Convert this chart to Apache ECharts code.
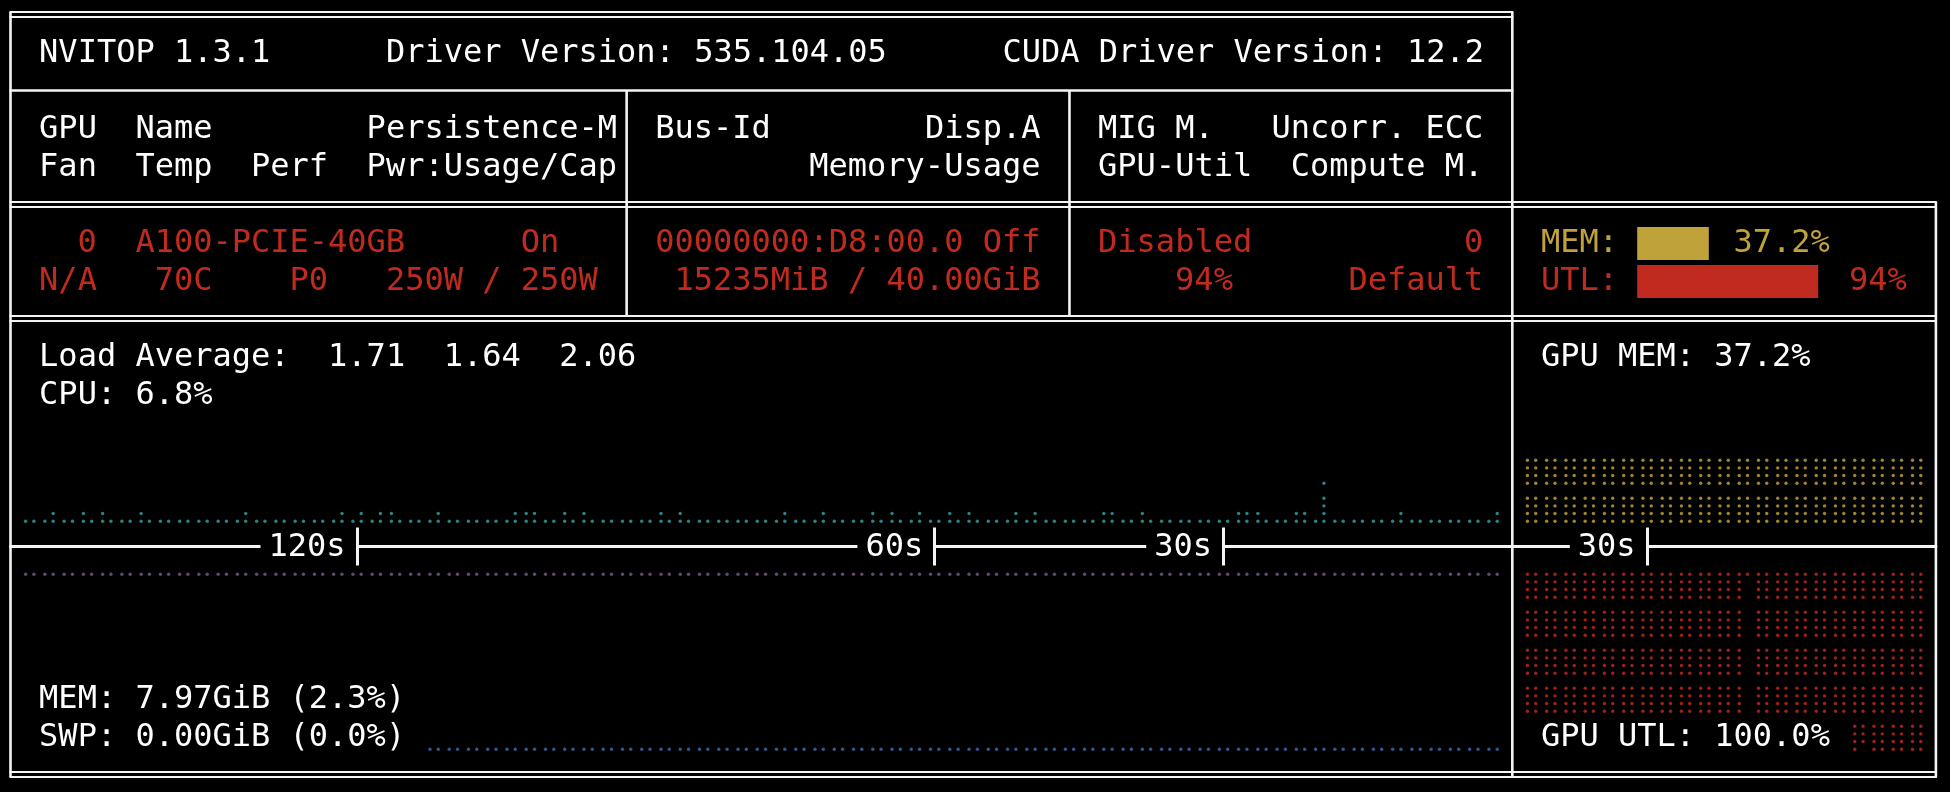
<!DOCTYPE html>
<html>
<head>
<meta charset="utf-8">
<script src="https://cdn.jsdelivr.net/npm/echarts@6/dist/echarts.min.js"></script>
<style>
html,body{margin:0;padding:0;background:#000;}
#chart{width:1950px;height:792px;}
</style>
</head>
<body>
<div id="chart"></div>
<script>
// ---------------- DATA ----------------
const nvitopVersion = '1.3.1';
const driverVersion = '535.104.05';
const cudaVersion = '12.2';
const loadAverage = [1.71, 1.64, 2.06];
const cpuPercent = 6.8;
const memUsed = '7.97GiB', memPercent = 2.3;
const swpUsed = '0.00GiB', swpPercent = 0.0;
const gpuMemPercent = 37.2;
const gpuUtlPercent = 100.0;

// device bars (right of the GPU row)
const gpuBarLabels = ['MEM', 'UTL'];
const gpuBarValues = [37.2, 94];

// history graphs, oldest sample first, one sample per second
const cpuHistory = [
  3,3,3,7,3,3,7,3,7,3,
  3,3,7,3,3,3,3,3,3,3,
  3,3,3,7,3,3,3,3,3,3,
  3,3,3,7,3,7,3,7,7,3,
  3,3,3,7,3,3,3,3,3,3,
  3,7,7,7,3,3,7,3,7,3,
  3,3,3,3,3,3,7,3,7,3,
  3,3,3,3,3,3,3,3,3,7,
  3,3,3,7,3,3,3,3,7,3,
  7,3,3,7,3,3,7,3,7,3,
  3,3,3,7,3,7,3,3,3,3,
  3,3,7,7,3,3,7,3,3,3,
  3,3,3,3,3,3,7,7,7,3,
  3,3,7,7,3,22,3,3,3,3,
  3,3,3,7,3,3,3,3,3,3,
  3,3,3,7
];
const memHistory = [
  2.3,2.3,2.3,2.3,2.3,2.3,2.3,2.3,2.3,2.3,2.3,2.3,2.3,2.3,
  2.3,2.3,2.3,2.3,2.3,2.3,2.3,2.3,2.3,2.3,2.3,2.3,2.3,2.3,
  2.3,2.3,2.3,2.3,2.3,2.3,2.3,2.3,2.3,2.3,2.3,2.3,2.3,2.3,
  2.3,2.3,2.3,2.3,2.3,2.3,2.3,2.3,2.3,2.3,2.3,2.3,2.3,2.3,
  2.3,2.3,2.3,2.3,2.3,2.3,2.3,2.3,2.3,2.3,2.3,2.3,2.3,2.3,
  2.3,2.3,2.3,2.3,2.3,2.3,2.3,2.3,2.3,2.3,2.3,2.3,2.3,2.3,
  2.3,2.3,2.3,2.3,2.3,2.3,2.3,2.3,2.3,2.3,2.3,2.3,2.3,2.3,
  2.3,2.3,2.3,2.3,2.3,2.3,2.3,2.3,2.3,2.3,2.3,2.3,2.3,2.3,
  2.3,2.3,2.3,2.3,2.3,2.3,2.3,2.3,2.3,2.3,2.3,2.3,2.3,2.3,
  2.3,2.3,2.3,2.3,2.3,2.3,2.3,2.3,2.3,2.3,2.3,2.3,2.3,2.3,
  2.3,2.3,2.3,2.3,2.3,2.3,2.3,2.3,2.3,2.3,2.3,2.3,2.3,2.3
];
const swpHistory = [
  0,0,0,0,0,0,0,0,0,0,0,0,0,0,
  0,0,0,0,0,0,0,0,0,0,0,0,0,0,
  0,0,0,0,0,0,0,0,0,0,0,0,0,0,
  0,0,0,0,0,0,0,0,0,0,0,0,0,0,
  0,0,0,0,0,0,0,0,0,0,0,0,0,0,
  0,0,0,0,0,0,0,0,0,0,0,0,0,0,
  0,0,0,0,0,0,0,0,0,0,0,0,0,0,
  0,0,0,0,0,0,0,0,0,0,0,0,0,0,
  0,0,0,0,0,0,0,0,0,0,0,0,0,0,
  0,0,0,0,0,0,0,0,0,0,0,0,0,0,
  0,0,0,0,0,0,0,0,0,0,0,0,0,0
];
const gpuMemHistory = [
  37.2,37.2,37.2,37.2,37.2,37.2,37.2,37.2,37.2,37.2,37.2,37.2,37.2,37.2,
  37.2,37.2,37.2,37.2,37.2,37.2,37.2,37.2,37.2,37.2,37.2,37.2,37.2,37.2,
  37.2,37.2,37.2,37.2,37.2,37.2,37.2,37.2,37.2,37.2,37.2,37.2,37.2,37.2
];
const gpuUtlHistory = [
  100,100,100,100,100,100,100,100,100,100,100,100,100,100,
  100,100,100,100,100,100,100,100,100,3,100,100,100,100,
  100,100,100,100,100,100,100,93,100,100,100,100,100,100
];

// time axis ticks (seconds ago)
const leftTimeTicks = [120, 60, 30];
const rightTimeTicks = [30];

// ---------------- LAYOUT (terminal grid) ----------------
const CW = 19.254;          // character cell width
const RH = 38;              // character cell height
const LINE_X0 = 10.5;       // centre of column 0
const TEXT_X0 = 0.6;        // left edge of column 0 for text
const ROW_Y0 = 14.5;        // centre of row 0
const TEXT_DY = 1.5;        // text middle relative to row centre
const colX = c => LINE_X0 + CW * c;
const cellLeft = c => TEXT_X0 + CW * c;
const rowY = r => ROW_Y0 + RH * r;
const SEC_PX = CW / 2;      // one braille dot column per second
const PCT_PX = 1.9;         // 20 braille dots over 5 rows
const FONT = '"DejaVu Sans Mono", "Liberation Mono", monospace';
const FS = 32;

const C = {
  w: '#ffffff', r: '#c12a1f', g: '#c0a23b',
  teal: '#3aa3a5', purple: '#7b5b8d', blue: '#3e6db3',
  gold: '#c8a63b', red: '#c62b20', line: '#f4f4f4'
};

// ---------------- TEXT ----------------
const screenText = [
  [1, 2, `NVITOP ${nvitopVersion}      Driver Version: ${driverVersion}      CUDA Driver Version: ${cudaVersion}`, 'w'],
  [3, 2, 'GPU  Name        Persistence-M', 'w'],
  [3, 34, 'Bus-Id        Disp.A', 'w'],
  [3, 57, 'MIG M.   Uncorr. ECC', 'w'],
  [4, 2, 'Fan  Temp  Perf  Pwr:Usage/Cap', 'w'],
  [4, 42, 'Memory-Usage', 'w'],
  [4, 57, 'GPU-Util  Compute M.', 'w'],
  [6, 4, '0  A100-PCIE-40GB      On', 'r'],
  [6, 34, '00000000:D8:00.0 Off', 'r'],
  [6, 57, 'Disabled           0', 'r'],
  [7, 2, 'N/A   70C    P0   250W / 250W', 'r'],
  [7, 35, '15235MiB / 40.00GiB', 'r'],
  [7, 61, '94%      Default', 'r'],
  [6, 80, gpuBarLabels[0] + ':', 'g'],
  [6, 90, gpuBarValues[0].toFixed(1) + '%', 'g'],
  [7, 80, gpuBarLabels[1] + ':', 'r'],
  [7, 96, gpuBarValues[1] + '%', 'r'],
  [9, 2, 'Load Average:  ' + loadAverage.map(v => v.toFixed(2)).join('  '), 'w'],
  [10, 2, 'CPU: ' + cpuPercent.toFixed(1) + '%', 'w'],
  [18, 2, 'MEM: ' + memUsed + ' (' + memPercent.toFixed(1) + '%)', 'w'],
  [19, 2, 'SWP: ' + swpUsed + ' (' + swpPercent.toFixed(1) + '%)', 'w'],
  [9, 80, 'GPU MEM: ' + gpuMemPercent.toFixed(1) + '%', 'w'],
  [19, 80, 'GPU UTL: ' + gpuUtlPercent.toFixed(1) + '%', 'w']
];

const graphic = [];
screenText.forEach(([r, c, t, k]) => {
  graphic.push({
    type: 'text', x: cellLeft(c), y: rowY(r) + TEXT_DY, silent: true, z: 10,
    style: { text: t, fill: C[k], font: FS + 'px ' + FONT, textAlign: 'left', textVerticalAlign: 'middle', verticalAlign: 'middle' }
  });
});

// box drawing
function hline(y, c1, c2, w) {
  graphic.push({ type: 'line', silent: true, z: 5, shape: { x1: colX(c1) - 1, y1: y, x2: colX(c2) + 1, y2: y }, style: { stroke: C.line, lineWidth: w } });
}
function dline(r, c1, c2) { hline(rowY(r) - 2.5, c1, c2, 2); hline(rowY(r) + 2.5, c1, c2, 2); }
function vline(c, y1, y2) {
  graphic.push({ type: 'line', silent: true, z: 5, shape: { x1: colX(c), y1: y1, x2: colX(c), y2: y2 }, style: { stroke: C.line, lineWidth: 2.6 } });
}
dline(0, 0, 78);
hline(rowY(2), 0, 78, 2.6);
dline(5, 0, 100);
dline(8, 0, 100);
dline(20, 0, 100);
vline(0, rowY(0) - 2.5, rowY(20) + 2.5);
vline(78, rowY(0) - 2.5, rowY(20) + 2.5);
vline(100, rowY(5) - 2.5, rowY(20) + 2.5);
vline(32, rowY(2), rowY(8) - 2.5);
vline(55, rowY(2), rowY(8) - 2.5);

// ---------------- BRAILLE DOTS ----------------
const UP = [6.2, 14.0, 21.6, 29.2];     // dot centres above cell bottom
const DOWN = [8.8, 16.4, 24.0, 31.8];   // dot centres below cell top
function dotLevel(v) { return Math.min(20, Math.max(1, Math.ceil(v / 5 - 1e-9))); }
function sampleT(i) { return i + 1.5 + (i % 2 === 0 ? 0.069 : -0.069); }
function dots(history, offsets, from, to) {
  const n = history.length, out = [];
  history.forEach((v, k) => {
    const i = n - 1 - k, t = sampleT(i), lvl = dotLevel(v);
    for (let d = from; d < Math.min(lvl, to); d++) {
      out.push([t, (RH * Math.floor(d / 4) + offsets[d % 4]) / PCT_PX]);
    }
  });
  return out;
}

// ---------------- GRIDS / AXES ----------------
const leftW = colX(78) - colX(0);
const rightW = colX(100) - colX(78);
const upTop = rowY(9) - RH / 2, axisY = rowY(14), lowTop = rowY(15) - RH / 2, lowH = RH * 5;
const swpLeft = cellLeft(22);
const utlClipLeft = cellLeft(96);

const grid = [
  { left: colX(0), top: upTop, width: leftW, height: axisY - upTop },           // 0 CPU
  { left: colX(0), top: lowTop, width: leftW, height: lowH },                   // 1 MEM
  { left: swpLeft, top: lowTop, width: colX(78) - swpLeft, height: lowH },      // 2 SWP
  { left: colX(78), top: upTop, width: rightW, height: axisY - upTop },         // 3 GPU MEM
  { left: colX(78), top: lowTop, width: rightW, height: lowH },                 // 4 GPU UTL
  { left: utlClipLeft, top: lowTop, width: colX(100) - utlClipLeft, height: lowH }, // 5 GPU UTL last row
  { left: cellLeft(85), top: rowY(6) - RH / 2 + 1, width: CW * 10, height: RH * 2 } // 6 bars
];

const hidden = { show: false };
function hiddenX(gi, max) {
  return { type: 'value', gridIndex: gi, min: 0, max: max, inverse: true, show: false, axisLine: { onZero: false }, splitLine: hidden };
}
function timeAxes(gi, max, ticks) {
  const base = { type: 'value', gridIndex: gi, min: 0, max: max, inverse: true, position: 'bottom', splitLine: hidden };
  return [
    Object.assign({}, base, {
      z: 2,
      axisLine: { show: true, onZero: false, lineStyle: { color: C.line, width: 3 } },
      axisTick: hidden,
      axisLabel: {
        show: true, customValues: ticks, formatter: v => v + 's', color: C.w,
        fontFamily: FONT, fontSize: FS, align: 'right', verticalAlign: 'middle', margin: TEXT_DY,
        backgroundColor: '#000', padding: [3, 11.5, 3, 8]
      }
    }),
    Object.assign({}, base, {
      z: 6, axisLine: { show: false, onZero: false }, axisLabel: hidden,
      axisTick: { show: true, customValues: ticks, inside: true, length: 19, lineStyle: { color: C.line, width: 3 } }
    }),
    Object.assign({}, base, {
      z: 6, axisLine: { show: false, onZero: false }, axisLabel: hidden,
      axisTick: { show: true, customValues: ticks, inside: false, length: 19, lineStyle: { color: C.line, width: 3 } }
    })
  ];
}
const leftMax = leftW / SEC_PX, rightMax = rightW / SEC_PX;
const xAxis = [].concat(
  timeAxes(0, leftMax, leftTimeTicks),                 // 0,1,2
  [hiddenX(1, leftMax)],                               // 3
  [hiddenX(2, (colX(78) - swpLeft) / SEC_PX)],         // 4
  timeAxes(3, rightMax, rightTimeTicks),               // 5,6,7
  [hiddenX(4, rightMax)],                              // 8
  [hiddenX(5, (colX(100) - utlClipLeft) / SEC_PX)],    // 9
  [{ type: 'value', gridIndex: 6, min: 0, max: 100, show: false, splitLine: hidden }] // 10
);
const yAxis = [
  { type: 'value', gridIndex: 0, min: -10, max: 100, show: false, splitLine: hidden },
  { type: 'value', gridIndex: 1, min: 0, max: 100, inverse: true, show: false, splitLine: hidden },
  { type: 'value', gridIndex: 2, min: 0, max: 100, show: false, splitLine: hidden },
  { type: 'value', gridIndex: 3, min: -10, max: 100, show: false, splitLine: hidden },
  { type: 'value', gridIndex: 4, min: 0, max: 100, inverse: true, show: false, splitLine: hidden },
  { type: 'value', gridIndex: 5, min: 0, max: 100, inverse: true, show: false, splitLine: hidden },
  { type: 'category', gridIndex: 6, data: gpuBarLabels, inverse: true, show: false }
];

function scatter(name, xi, yi, data, color) {
  return { name, type: 'scatter', xAxisIndex: xi, yAxisIndex: yi, data, symbol: 'circle', symbolSize: 3.4,
           itemStyle: { color }, silent: true, clip: true, animation: false };
}
const series = [
  scatter('CPU', 0, 0, dots(cpuHistory, UP, 0, 20), C.teal),
  scatter('MEM', 3, 1, dots(memHistory, DOWN, 0, 20), C.purple),
  scatter('SWP', 4, 2, dots(swpHistory, UP, 0, 20), C.blue),
  scatter('GPU MEM', 5, 3, dots(gpuMemHistory, UP, 0, 20), C.gold),
  scatter('GPU UTL', 8, 4, dots(gpuUtlHistory, DOWN, 0, 16), C.red),
  scatter('GPU UTL tail', 9, 5, dots(gpuUtlHistory, DOWN, 16, 20), C.red),
  {
    name: 'GPU bars', type: 'bar', xAxisIndex: 10, yAxisIndex: 6, barWidth: 33, silent: true, animation: false,
    data: gpuBarValues.map((v, i) => ({ value: v, itemStyle: { color: i === 0 ? C.g : C.r } }))
  }
];

const chart = echarts.init(document.getElementById('chart'), null, { renderer: 'canvas' });
chart.setOption({
  backgroundColor: '#000',
  animation: false,
  textStyle: { fontFamily: FONT },
  grid, xAxis, yAxis, series,
  graphic: { elements: graphic }
});
</script>
</body>
</html>
